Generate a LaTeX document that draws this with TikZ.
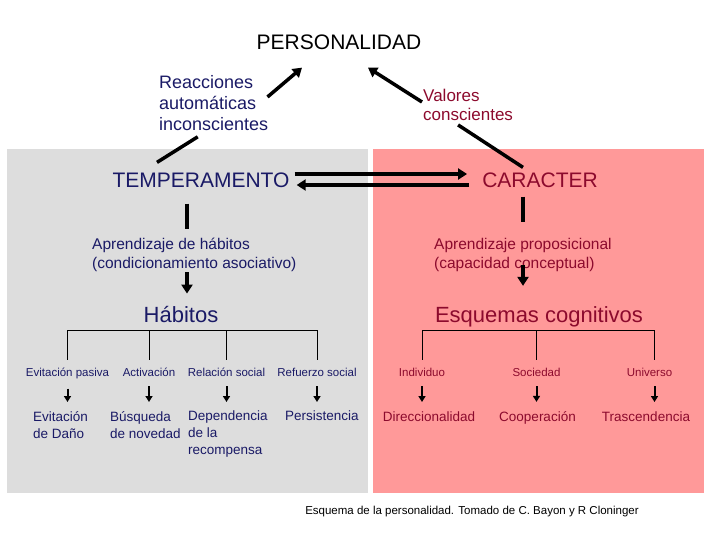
\documentclass[tikz,border=0pt]{standalone}
\usepackage{fontspec}
\setmainfont{Liberation Sans}
\usepackage{xcolor}
\usetikzlibrary{arrows.meta,positioning,calc}
\definecolor{tempnavy}{RGB}{26,26,102}
\definecolor{charred}{RGB}{140,10,45}
\definecolor{panelgray}{RGB}{221,221,221}
\definecolor{panelpink}{RGB}{255,153,153}

\begin{document}
\begin{tikzpicture}[x=1pt, y=-1pt,
    big/.style={inner sep=0pt, font=\fontsize{21}{25}\selectfont},
    headline/.style={inner sep=0pt, anchor=base, font=\fontsize{22}{26}\selectfont},
    note/.style={inner sep=0pt, anchor=west, align=left, font=\fontsize{15.5}{19}\selectfont},
    lbl/.style={inner sep=0pt, anchor=base, font=\fontsize{11.5}{14}\selectfont},
    leaf/.style={inner sep=0pt, align=left, font=\fontsize{13.5}{17}\selectfont},
    thickarrow/.style={-{Triangle[length=9pt,width=11pt]}, line width=3.5pt},
    thickline/.style={line width=3.5pt},
    smallarrow/.style={-{Triangle[length=6pt,width=7pt]}, line width=2pt, shorten <=10pt, shorten >=9pt},
    branch/.style={line width=0.8pt}
]
\useasboundingbox (0,0) rectangle (720,540);
\fill[panelgray] (7,149) rectangle (368,493);
\fill[panelpink] (373,149) rectangle (704,493);

\node[big] (pers) at (339,42) {PERSONALIDAD};
\node[inner sep=0pt, anchor=west, align=left, text=tempnavy, font=\fontsize{18}{21}\selectfont] (reac) at (159,103) {Reacciones\\automáticas\\inconscientes};
\node[inner sep=0pt, anchor=west, align=left, text=charred, font=\fontsize{17}{19}\selectfont] (val) at (423,105) {Valores\\conscientes};

\node[big, text=tempnavy] (temp) at (201,180) {TEMPERAMENTO};
\node[big, text=charred] (car) at (540,180) {CARACTER};

\node[note, text=tempnavy] (apr1) at (92,255) {Aprendizaje de hábitos\\(condicionamiento asociativo)};
\node[note, text=charred] (apr2) at (434,255) {Aprendizaje proposicional\\(capacidad conceptual)};

\node[headline, text=tempnavy] (hab) at (181,322) {Hábitos};
\node[headline, text=charred] (esq) at (539,322) {Esquemas cognitivos};

\node[lbl, text=tempnavy] (ep) at (67.5,376) {Evitación pasiva};
\node[lbl, text=tempnavy] (act) at (149,376) {Activación};
\node[lbl, text=tempnavy] (rel) at (226.5,376) {Relación social};
\node[lbl, text=tempnavy] (ref) at (317,376) {Refuerzo social};
\node[lbl, text=charred] (ind) at (422,376) {Individuo};
\node[lbl, text=charred] (soc) at (536.5,376) {Sociedad};
\node[lbl, text=charred] (uni) at (649.5,376) {Universo};

\node[leaf, anchor=north west, text=tempnavy] (ed) at (33,411) {Evitación\\de Daño};
\node[leaf, anchor=north west, text=tempnavy] (bn) at (110,411) {Búsqueda\\de novedad};
\node[leaf, anchor=north west, text=tempnavy] (dr) at (188,411) {Dependencia\\de la\\recompensa};
\node[leaf, anchor=north west, text=tempnavy] (pe) at (285,411) {Persistencia};
\node[leaf, anchor=base, text=charred] (dir) at (429,421) {Direccionalidad};
\node[leaf, anchor=base, text=charred] (coo) at (537.5,421) {Cooperación};
\node[leaf, anchor=base, text=charred] (tra) at (646,421) {Trascendencia};

\node[inner sep=0pt, anchor=base, font=\fontsize{11.5}{14}\selectfont] (cap) at (472,514) {Esquema de la personalidad. Tomado de C. Bayon y R Cloninger};

\draw[thickarrow] ($(reac.east)+(-1,-6)$) -- ($(pers.south)+(-37,18)$);
\draw[thickarrow] ($(val.west)+(-1,-3)$) -- ($(pers.south)+(29,18)$);
\draw[thickline] ($(reac.south)+(-16,6)$) -- ($(temp.north)+(-44,-10)$);
\draw[thickline] ($(val.south)+(-10,4)$) -- ($(car.north)+(-17,-5)$);

\draw[thickarrow] ($(temp.east)+(5,-6)$) -- ($(car.west)+(-15,-6)$);
\draw[thickarrow] ($(car.west)+(-13,5)$) -- ($(temp.east)+(7,5)$);

\draw[thickline] ($(temp.south)+(-14,16)$) -- ($(temp.south |- apr1.north)+(-14,-9)$);
\draw[thickarrow] ($(temp.south |- apr1.south)+(-14,0)$) -- ($(temp.south |- hab.north)+(-14,-12)$);
\draw[thickline] ($(car.south)+(-17,9)$) -- ($(car.south |- apr2.north)+(-17,-16)$);
\draw[thickarrow] ($(car.south |- apr2.south)+(-17,-7)$) -- ($(car.south |- esq.north)+(-17,-20)$);

\coordinate (bar) at (0,330);
\path (uni.north) ++(5,0) coordinate (unitop);
\path (uni.south) ++(5,0) coordinate (unibot);
\draw[branch] (ep.north |- bar) -- (ref.north |- bar);
\draw[branch] (ind.north |- bar) -- (unitop |- bar);
\foreach \n in {ep,act,rel,ref,ind,soc}
  \draw[branch, shorten >=7pt] (\n.north |- bar) -- (\n.north);
\draw[branch, shorten >=7pt] (unitop |- bar) -- (unitop);

\foreach \a/\b in {ep/ed,act/bn,rel/dr,ref/pe,ind/dir,soc/coo}
  \draw[smallarrow] (\a.south) -- (\a.south |- \b.north);
\draw[smallarrow] (unibot) -- (unibot |- tra.north);
\end{tikzpicture}
\end{document}
